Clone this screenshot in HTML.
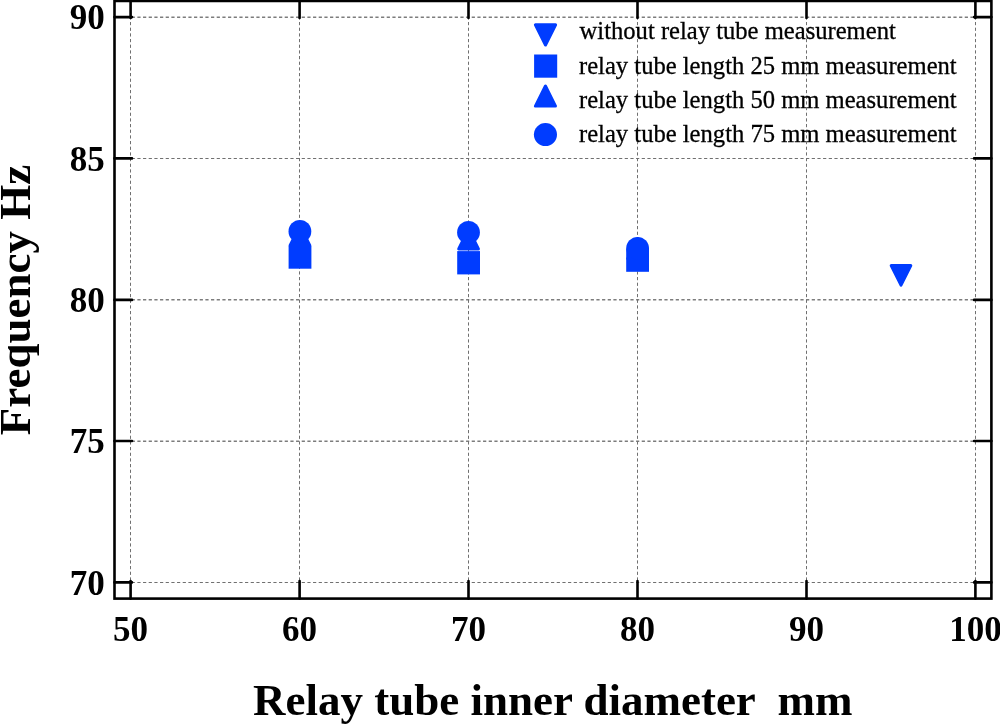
<!DOCTYPE html>
<html><head><meta charset="utf-8"><style>
html,body{margin:0;padding:0;background:#fff;width:1000px;height:724px;overflow:hidden}
svg{display:block}
.tk{font-family:"Liberation Serif",serif;font-weight:bold;font-size:35px;fill:#000}
.tt{font-family:"Liberation Serif",serif;font-weight:bold;font-size:45px;fill:#000}
.lg{font-family:"Liberation Serif",serif;font-size:24.6px;fill:#000;stroke:#000;stroke-width:0.3px}
</style></head><body>
<svg width="1000" height="724" viewBox="0 0 1000 724">
<g stroke="#707070" stroke-dasharray="3.2 2.467" fill="none">
<path stroke-width="1.4" stroke="#7c7c7c" d="M114.7 17.3H991.5M114.7 299.7H991.5M114.7 441.3H991.5"/>
<path stroke-width="1" d="M114.7 158.5H991.5M114.7 582.5H991.5"/>
<path stroke-width="1" d="M130.5 -0.67V598.6M299.5 -0.67V598.6M468.5 -0.67V598.6M637.5 -0.67V598.6M806.5 -0.67V598.6M975.5 -0.67V598.6"/>
</g>
<g stroke="#000" stroke-width="2.6" fill="none">
<rect x="114.5" y="0.95" width="876.9" height="597.65"/>
<path stroke-linecap="round" d="M114.5 17.1h17.5M114.5 158.4h17.5M114.5 299.9h17.5M114.5 441h17.5M114.5 582.4h17.5"/>
<path stroke-linecap="round" d="M991.4 17.1h-17.3M991.4 158.4h-17.3M991.4 299.9h-17.3M991.4 441h-17.3M991.4 582.4h-17.3"/>
<path stroke-linecap="round" d="M130.6 598.6v-17.5M299.6 598.6v-17.5M468.5 598.6v-17.5M637.5 598.6v-17.5M806.5 598.6v-17.5M975.4 598.6v-17.5"/>
<path stroke-linecap="round" d="M130.6 0.4v17.5M299.6 0.4v17.5M468.5 0.4v17.5M637.5 0.4v17.5M806.5 0.4v17.5M975.4 0.4v17.5"/>
</g>
<g class="tk" text-anchor="end">
<text x="104.8" y="29.2">90</text>
<text x="104.8" y="170.8">85</text>
<text x="104.8" y="312.3">80</text>
<text x="104.8" y="453.3">75</text>
<text x="104.8" y="594.6">70</text>
</g>
<g class="tk" text-anchor="middle">
<text x="130.6" y="641.4">50</text>
<text x="299.6" y="641.4">60</text>
<text x="468.5" y="641.4">70</text>
<text x="637.5" y="641.4">80</text>
<text x="806.5" y="641.4">90</text>
<text x="975.4" y="641.4">100</text>
</g>
<text class="tt" x="253" y="714.5" xml:space="preserve">Relay tube inner diameter  mm</text>
<text class="tt" transform="translate(30,300) rotate(-90)" text-anchor="middle">Frequency Hz</text>
<g fill="#003cff" stroke="#003cff" stroke-width="3" stroke-linejoin="round">
<path d="M535.40 24.80H555.60L545.50 45.00Z"/>
<rect x="534.1" y="54.5" width="23.10" height="23.20" stroke="none"/>
<path d="M535.40 106.10H555.50L545.45 86.00Z"/>
<circle cx="545.45" cy="134.55" r="11.55" stroke="none"/>
<rect x="288.6" y="245.9" width="22.80" height="22.80" stroke="none"/>
<path d="M290.10 245.50H309.80L299.95 225.60Z"/>
<circle cx="299.9" cy="231.4" r="11.4" stroke="none"/>
<rect x="457.2" y="251.1" width="22.80" height="23.30" stroke="none"/>
<path d="M458.70 249.00H478.40L468.55 228.90Z"/>
<circle cx="468.5" cy="232.4" r="11.4" stroke="none"/>
<rect x="626.2" y="248.9" width="22.80" height="22.90" stroke="none"/>
<path d="M627.80 258.70H647.40L637.60 238.50Z"/>
<circle cx="637.6" cy="248.3" r="11.4" stroke="none"/>
<path d="M891.20 265.60H910.80L901.00 285.10Z"/>
</g>
<g class="lg">
<text x="579.6" y="38.8">without relay tube measurement</text>
<text x="579" y="73.5">relay tube length 25 mm measurement</text>
<text x="579" y="107.8">relay tube length 50 mm measurement</text>
<text x="579" y="142.4">relay tube length 75 mm measurement</text>
</g>
</svg>
</body></html>
